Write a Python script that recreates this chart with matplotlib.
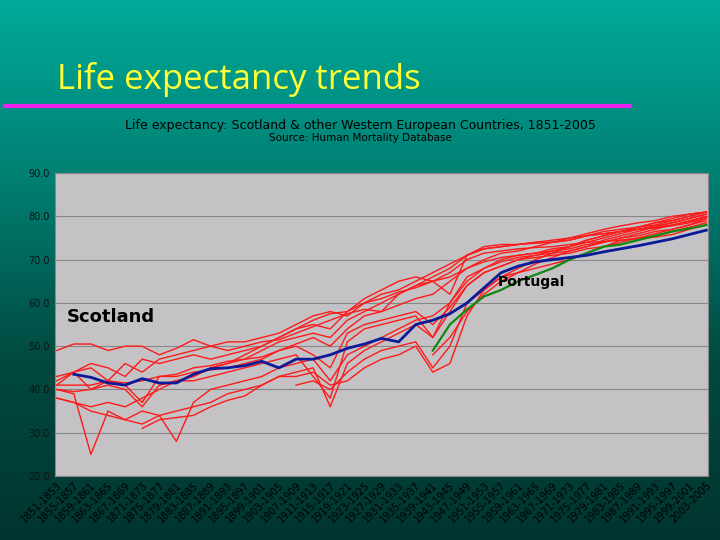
import numpy as np
import matplotlib
matplotlib.use("Agg")
import matplotlib.pyplot as plt
from matplotlib.colors import LinearSegmentedColormap

nan = np.nan
start_years = list(range(1851, 2004, 4))
periods = [f"{y}-{y+2}" for y in start_years]

scotland = [nan,43.5,42.8,41.5,41,42.5,41.5,41.5,43.5,44.8,45,45.5,46.5,45,47,47,48,49.5,50.5,51.8,51,55,56,57.5,60,63.5,67,68.5,69.5,70,70.5,71,71.8,72.5,73.2,74,74.8,75.8,76.8]
portugal = [nan]*22 + [49,55,58.5,61.5,63,65,66.5,68,70,71.5,73,73.5,74.5,75.5,76.5,77.2,78]
others = [
 [49,50.5,50.5,49,50,50,48,49.5,51.5,50,49,50,51,51.5,53,54.5,56,57.5,58.5,58,62,64,66,68,71,73,73.5,73.5,74,74,74.5,75.5,76,76.5,77,77.5,78,79,80],
 [42,44,45,42,46,44,47,48,49,50,51,51,52,53,55,57,58,57,60,62,63,65,67,69,71,72.5,73,73.5,74,74.5,75,75.5,76.5,77,77.5,78,79,80,81],
 [43,44,46,45,43,47,46,47,48,47,48,49,50,52,54,56,57.5,58,60,61,62.5,63.5,65,67,70,71.5,72,72.5,72.8,73,73.5,74,74.2,74.5,74.8,75.2,75.8,77,78],
 [41,41,41,42,41.5,42,43,43.5,45,45.5,46.5,47,47.5,49,50.5,52,50,54,57,58,59.5,61,62,65,68,69.5,70.5,71,71.5,72,72.5,73.5,74,75,75.5,76.5,77,78,79.5],
 [40,39.5,40,41,40,36,41,42,42,43,44,45,46,47,48,43,38,51,54,55,56,57,52,60,66,68,70,71,71.5,72.5,73,74,75,76,77,77.8,78.5,79.5,80.5],
 [38,37,36,37,36,38,40,42,43,45,46,48,50,52,54,55,54,58,61,63,65,66,65,62,71,72.5,73,73.5,73.8,74,74.5,75.5,76,76.5,77,77.3,77.8,78.5,79.5],
 [41,44,40,42,41,37,43,43,44,44.5,45,46,47,49,50,48,45,53,55,56,57,58,55,59,64,67,68.5,70,70.5,71,71.5,72.5,73,74,75,76,77,78,79],
 [40,39,25,35,33,32,34,35,36,37,39,40,41,43,43,44,41,42,45,47,48,50,44,46,57,63,66,67,68,69,70,71.5,73,74.5,75,75.5,76.5,77.5,78.5],
 [nan,nan,nan,nan,nan,31,33,33.5,34,36,37.5,38.5,41,43,44,45,36,46,49,51,53,55,52,58,64,67,68.5,70,71,72,73,74.5,75.5,76.5,77.5,78.5,79,80,81],
 [nan,nan,nan,nan,nan,nan,41,42,43,45,46,47,49,51,52,53,52,56,58,60,62,64,65,66,68,70,71.5,72,73,74,75,76,77,77.8,78.5,79,80,80.5,81],
 [nan]*14 + [41,42,40,44,47,49,50,51,45,50,60,63,66,68,70,71.5,73,74.5,75.5,76.5,77.5,78.5,79.5,80.5,81],
 [38,37,35,34,33,35,34,28,37,40,41,42,43,45,46,47,42,48,50,52,54,56,57,60,65,68,69.5,70.5,71,71.5,72,73,74,75,76,77,78,78.8,79.8],
 [nan]*22 + [48,52,58,62,65,67,69,70.5,72,73,74.5,75.5,76.5,77.5,78.5,79.5,80.5],
]

fig = plt.figure(figsize=(7.2, 5.4), dpi=100)
bg = fig.add_axes([0, 0, 1, 1])
grad = np.linspace(0, 1, 256).reshape(-1, 1)
cm = LinearSegmentedColormap.from_list("bg", ["#00aa9a", "#007f72", "#004a40", "#003530"])
bg.imshow(grad, aspect="auto", cmap=cm, extent=[0, 1, 0, 1], origin="upper")
bg.set_axis_off()
bg.set_xlim(0, 1); bg.set_ylim(0, 1)

fig.text(0.079, 0.852, "Life expectancy trends", fontsize=25, color="#ffff33",
         family="Open Sans", va="center")
bg.plot([0.007, 0.875], [0.803, 0.803], color="#ee22ee", lw=3)
fig.text(0.5, 0.768, "Life expectancy: Scotland & other Western European Countries, 1851-2005",
         ha="center", va="center", fontsize=9, color="black")
fig.text(0.5, 0.745, "Source: Human Mortality Database", ha="center", va="center",
         fontsize=7.5, color="black")

ax = fig.add_axes([0.0764, 0.1185, 0.907, 0.561])
ax.set_facecolor("#c4c2c4")
x = np.arange(len(periods))
for s in others:
    ax.plot(x, s, color="#ff1a1a", lw=1.0)
ax.plot(x, portugal, color="#118811", lw=1.6)
ax.plot(x, scotland, color="#0a1a99", lw=2.0)
ax.set_xlim(-0.1, len(periods) - 0.9)
ax.set_ylim(20, 90)
ax.set_yticks(np.arange(20, 91, 10))
ax.set_yticklabels([f"{v:.1f}" for v in range(20, 91, 10)], fontsize=7, color="#111111")
ax.set_xticks(x)
ax.set_xticklabels(periods, rotation=45, ha="right", rotation_mode="anchor",
                   fontsize=7, color="black")
ax.tick_params(length=0, pad=3)
ax.tick_params(axis="y", pad=4)
ax.grid(axis="y", color="#888888", lw=0.8)
ax.set_axisbelow(True)
for sp in ax.spines.values():
    sp.set_color("#888888")
ax.text(0.018, 0.51, "Scotland", transform=ax.transAxes, fontsize=13, fontweight="bold")
ax.text(0.678, 0.628, "Portugal", transform=ax.transAxes, fontsize=10, fontweight="bold")

fig.savefig("out.png", dpi=100)
